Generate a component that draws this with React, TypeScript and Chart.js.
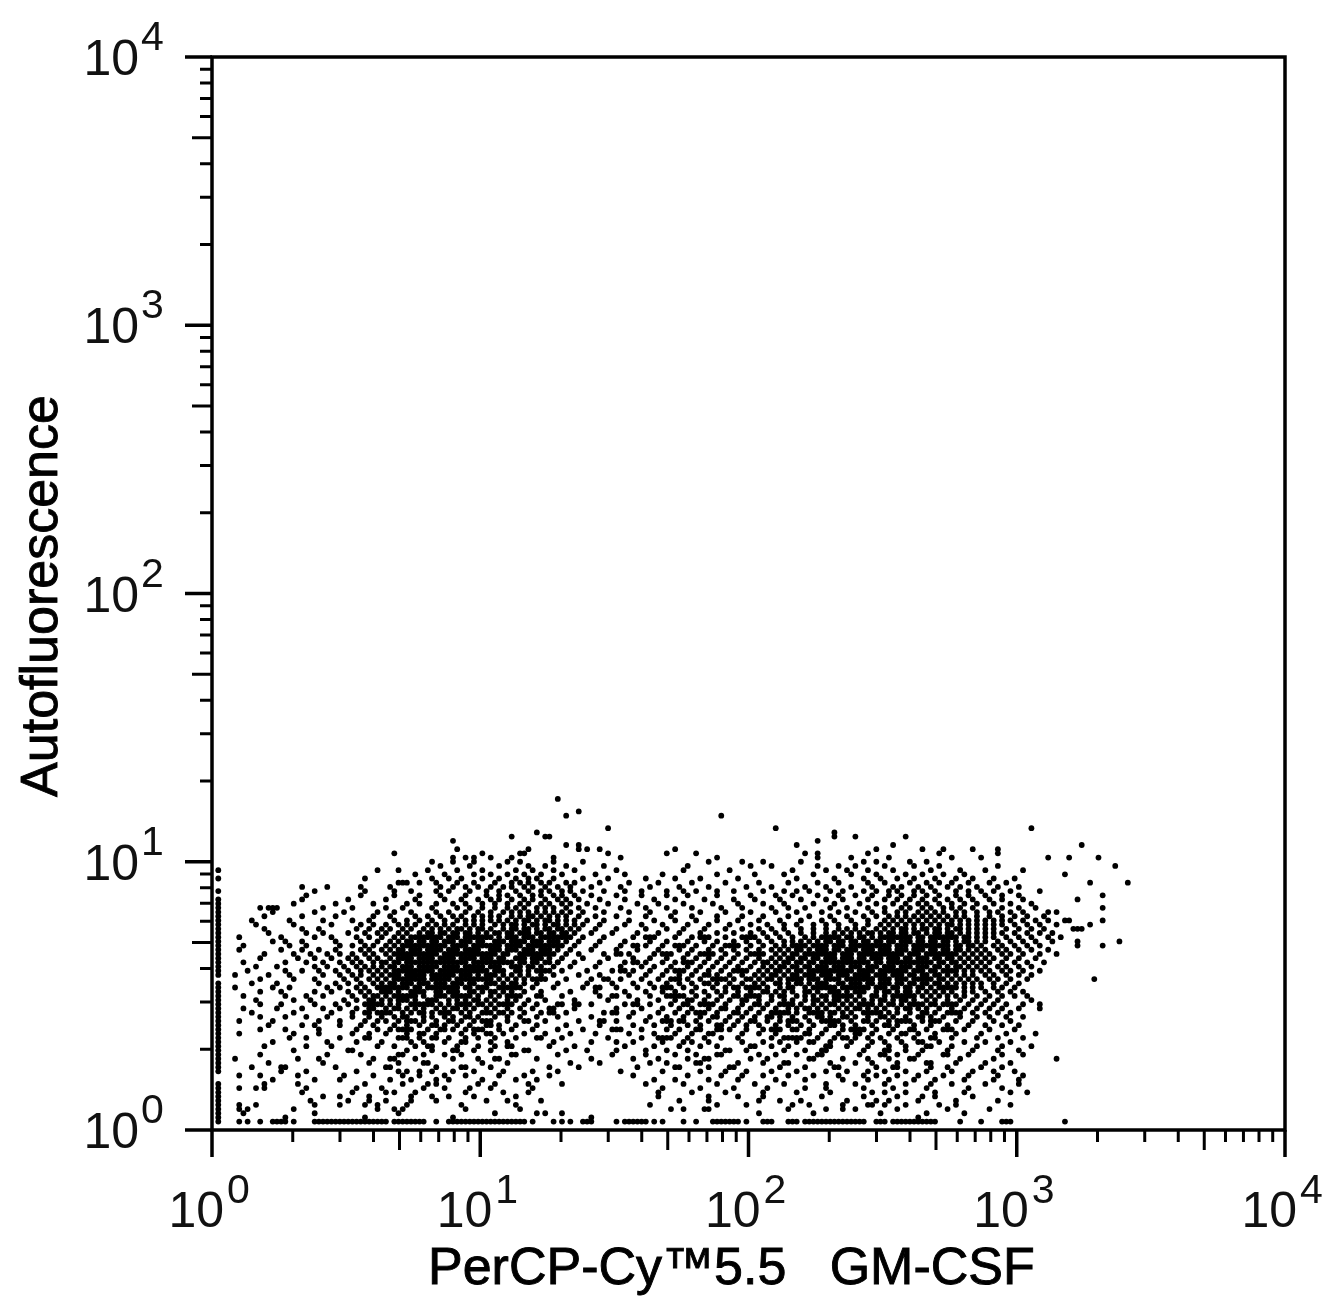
import React, { useEffect, useRef } from "react";
import { Chart, registerables } from "chart.js";

Chart.register(...registerables);

const xTitle = "PerCP-Cy™5.5   GM-CSF";
const yTitle = "Autofluorescence";
const decades = [1, 10, 100, 1000, 10000];
const decadeExponents = ["0", "1", "2", "3", "4"];
const minorMultipliers = [2, 3, 4, 6, 7, 8, 9];
const midMultiplier = 5;
const channelsPerDecade = 64;

// Dot plot: y channel, then the x channels that hold a dot on that row.
const hugColumn = [2,3,4,5,6,7,8,9,10,11,14,15,16,17,18,19,20,21,22,23,24,25,26,27,28,29,30,31,32,33,34,35,37,38,39,40,41,42,43,44,45,46,47,48,49,50,51,52,53,54,55,57,60,62];
const r2 = [6,8,11,14,15,16,17,19,24,25,26,27,28,29,30,31,32,33,34,35,36,37,38,39,40,41,43,44,45,46,47,48,49,50,53,56,57,58,59,60,61,62,63,64,65,66,67,68,69,70,71,72,73,74,76,81,83,85,88,89,90,96,98,99,100,101,102,103,105,107,112,115,119,120,121,122,123,124,125,127,131,132,133,137,138,139,141,142,143,144,145,146,147,148,149,150,151,152,153,154,155,158,159,160,162,163,164,165,166,167,168,169,170,171,172,178,183,188,189,190,203];
const r3 = [17,36,57,90,168];
const r4 = [7,24,44,67,77,79,83,130,143,159,170,179];
const r5 = [6,8,19,39,43,45,60,73,109,112,117,118,137,146,150,153,163,175,185];
const r6 = [6,10,24,30,36,39,46,59,72,104,120,127,138,142,150,156,157,160,165,173,177,190];
const r7 = [23,32,37,41,47,53,65,70,78,111,118,130,135,140,151,158,161,168,177,187];
const r8 = [26,30,37,47,52,56,62,72,106,118,125,131,145,155,163,169,172,181];
const r9 = [21,33,41,43,48,60,69,75,106,114,122,131,139,147,157,160,165,172,179,190,194];
const r10 = [6,10,12,22,34,40,50,55,61,66,76,107,116,124,132,141,146,155,162,170,180,188];
const r11 = [12,20,36,45,51,53,63,67,75,83,103,112,120,129,136,146,153,160,165,171,176,184,192];
const r12 = [14,24,30,42,47,53,56,64,72,77,105,110,118,125,134,141,150,156,161,167,172,179,186,192];
const r13 = [6,11,20,31,38,45,49,55,60,68,74,80,100,113,121,126,131,137,143,149,155,158,163,168,174,180,187,193];
const r14 = [16,22,34,44,46,49,52,57,62,69,76,82,97,107,116,122,127,133,139,146,151,156,160,165,170,176,181,186,191];
const r15 = [9,16,17,29,41,42,53,59,60,66,80,87,101,110,111,118,123,124,135,141,148,149,158,162,163,171,175,183,188];
const r16 = [13,26,37,44,50,51,64,70,85,92,104,108,115,116,125,131,136,137,147,153,157,163,170,171,177,184,190];
const r17 = [5,20,25,38,42,43,48,57,63,67,68,77,90,100,106,113,117,118,128,132,142,143,150,156,161,166,167,178,186,201];
const r18 = [11,27,35,44,45,50,55,59,71,72,82,95,103,110,115,120,121,130,134,139,144,145,154,159,160,163,168,174,175,180,188,193];
const r19 = [19,32,33,46,52,57,58,62,66,74,75,84,89,96,103,108,113,122,123,127,136,141,145,146,155,160,161,165,169,175,181,187,192];
const r20 = [12,22,28,39,43,48,51,52,58,63,67,70,71,80,86,98,105,111,116,120,128,129,133,137,146,147,151,156,161,165,170,171,176,182,188,195];
const r21 = [14,27,34,40,47,50,55,59,60,66,70,81,90,96,100,107,112,114,118,126,131,135,139,142,143,147,152,157,160,164,168,169,173,179,184,190];
const r22 = [18,22,30,36,37,44,49,52,53,56,60,63,67,72,77,78,83,94,102,108,109,113,117,121,125,133,136,137,140,144,148,153,156,159,163,167,171,172,176,182,187,193];
const r23 = [6,19,25,33,37,41,46,49,50,53,59,62,65,66,69,74,79,85,91,99,105,110,114,118,119,126,130,134,141,142,145,149,153,154,157,161,164,165,168,172,177,183,189,196];
const r24 = [11,17,25,34,39,42,44,47,51,54,55,57,60,64,68,71,76,82,88,95,102,108,111,115,116,123,127,131,135,138,139,142,146,150,154,155,158,162,166,167,170,174,179,185,191];
const r25 = [13,21,24,30,35,38,43,46,49,52,53,55,58,61,65,66,68,72,77,84,92,100,105,109,113,116,120,121,124,127,130,134,137,140,143,147,148,150,153,157,160,161,163,167,171,175,180,184,188,192];
const r26 = [6,14,25,30,36,39,41,44,48,50,53,56,57,59,62,66,70,74,75,79,87,96,103,107,111,112,115,118,122,125,128,129,132,135,139,142,145,148,149,152,155,156,158,161,165,166,169,173,177,181,186,190];
const r27 = [11,17,22,27,33,37,40,43,45,46,50,52,55,57,60,61,63,67,70,73,77,82,90,99,104,108,112,116,119,120,123,126,129,132,133,135,138,141,144,145,147,150,151,153,156,159,160,162,165,168,169,171,174,178,182,185,189,193];
const r28 = [9,19,28,33,36,37,39,42,45,47,49,50,52,54,56,59,61,64,68,69,71,74,78,84,93,100,106,110,113,117,120,124,125,127,130,133,136,137,139,142,145,147,148,150,152,155,158,159,161,163,166,169,170,172,175,178,181,184,187,190];
const r29 = [7,15,21,26,30,34,37,38,41,43,44,46,48,50,53,55,57,58,60,62,65,67,70,73,76,80,81,86,96,102,107,111,114,118,121,122,125,128,131,134,137,139,141,142,144,146,149,151,153,154,156,158,160,163,165,166,168,170,173,176,179,182,185,188,192,197];
const r30 = [11,16,24,29,32,36,39,40,42,44,47,49,51,52,54,56,58,61,63,64,66,68,71,74,77,82,83,90,98,104,109,112,113,116,119,122,126,129,130,132,135,138,140,143,145,147,148,150,152,154,157,159,161,162,164,166,169,171,172,174,177,180,183,186,189,193,197];
const r31 = [10,19,23,31,34,37,38,40,42,44,45,46,48,51,52,53,56,58,60,62,63,65,67,70,72,75,79,86,94,101,106,110,113,114,117,120,123,126,127,130,133,136,138,141,143,144,146,148,149,151,153,155,157,159,160,162,164,165,167,170,172,175,178,181,184,187,195];
const r32 = [7,17,22,26,33,36,38,39,41,43,46,47,48,50,53,54,55,58,60,61,63,66,68,70,73,77,78,83,92,99,104,108,109,112,115,118,121,124,125,127,130,133,135,136,139,141,143,145,146,148,151,152,154,157,158,160,162,163,165,167,169,171,173,175,177,179,182,185,188,191,194];
const r33 = [11,16,24,28,32,35,37,40,41,42,44,47,48,49,50,53,54,56,57,58,61,62,64,66,67,69,71,74,78,85,91,98,103,107,110,114,117,120,122,125,128,131,132,134,136,138,141,142,144,147,148,149,151,153,154,155,158,160,161,163,165,166,168,170,172,174,176,179,181,184,187,190,193];
const r34 = [5,14,18,27,30,34,36,39,41,43,44,45,46,48,49,51,52,53,55,56,57,60,61,63,64,65,68,69,71,73,76,81,88,96,101,105,109,112,115,119,122,124,125,127,130,132,135,137,138,141,143,144,145,147,148,150,151,152,155,156,158,159,160,162,163,165,166,168,169,171,173,175,177,179,181,183,186,188,191];
const r35 = [9,15,25,29,32,35,38,40,42,43,45,46,47,49,50,51,53,54,55,57,58,59,61,62,65,66,67,69,71,72,74,77,82,89,95,100,104,108,111,114,117,118,120,123,126,129,131,134,135,137,139,140,142,144,145,146,149,150,152,153,154,156,157,159,160,161,163,164,166,167,169,170,172,173,175,177,179,181,183,186,189,192];
const r36 = [11,19,24,31,34,37,39,41,43,44,45,47,48,49,50,52,53,54,55,56,58,59,60,62,64,65,66,68,70,72,74,76,79,84,90,97,102,106,109,113,116,119,122,124,127,128,130,132,133,135,137,138,140,142,143,144,146,147,148,149,151,152,153,155,156,157,159,160,161,163,164,165,167,168,170,171,173,174,176,178,180,182,185,187,190,194,210];
const r37 = [5,13,18,26,30,33,35,38,40,42,43,44,46,47,48,49,50,52,53,54,55,56,57,59,60,61,63,65,66,67,69,71,73,75,78,81,87,92,99,103,107,111,114,117,118,120,123,126,129,131,133,134,136,138,139,141,142,143,145,146,147,149,150,151,153,154,155,156,158,159,160,162,163,164,166,167,169,170,172,173,175,177,179,181,184,186,189,192,195];
const r38 = [8,17,21,25,29,32,35,37,39,41,43,44,45,46,48,49,50,51,52,54,55,56,57,58,61,62,63,64,65,67,68,69,72,73,75,77,80,83,89,95,100,104,108,112,115,118,121,124,127,130,132,134,135,137,139,140,142,143,144,146,147,148,150,151,152,154,155,156,157,159,160,161,163,164,165,167,168,169,171,172,174,175,177,179,181,183,185,188,190,193,197];
const r39 = [10,15,24,27,31,34,36,38,40,42,43,45,46,47,49,50,51,52,53,55,56,57,58,60,61,62,63,64,66,67,68,71,72,73,75,76,78,81,85,91,97,102,105,109,113,116,119,122,125,128,131,133,135,136,138,139,141,142,144,145,146,148,149,150,152,153,154,156,157,158,160,161,162,164,165,166,168,169,170,172,173,175,177,178,180,182,184,187,189,192,195];
const r40 = [7,17,22,26,30,33,35,38,40,41,43,44,46,47,48,49,51,52,53,54,56,57,58,59,60,62,63,64,67,68,69,70,71,73,74,76,77,79,82,86,92,98,103,107,110,114,117,120,123,126,129,132,134,136,137,139,140,142,143,145,146,147,149,150,151,153,154,155,156,158,159,161,162,163,165,166,167,169,170,171,173,174,176,177,179,181,183,185,188,191,194,198];
const r41 = [11,20,24,28,32,34,37,39,42,44,45,46,47,49,50,51,52,54,55,56,57,59,60,61,62,64,65,66,68,69,72,73,74,76,77,78,80,83,88,94,100,104,108,112,115,118,121,124,127,130,133,135,137,138,140,141,143,144,146,147,148,150,151,152,154,155,157,158,159,161,162,163,165,166,168,169,170,172,173,175,176,178,180,182,184,186,189,192,196];
const r42 = [12,19,23,27,30,33,36,38,41,43,44,46,47,48,50,51,52,53,55,56,57,58,60,61,62,63,65,66,67,69,70,73,74,75,77,78,79,81,84,87,93,99,105,109,113,116,119,122,125,128,131,134,136,138,139,141,143,144,145,147,148,150,151,152,154,155,156,158,159,160,162,163,164,166,167,168,170,171,173,174,176,177,179,181,183,185,188,190,193,197,201];
const r43 = [6,16,21,25,29,35,37,40,42,44,45,47,48,49,51,52,53,54,56,57,58,60,61,62,63,66,67,68,70,71,72,74,75,76,78,79,80,82,85,90,96,101,106,111,114,118,121,124,127,130,133,135,137,139,140,142,144,145,146,148,149,151,152,153,155,156,157,159,160,161,163,164,165,167,168,169,171,172,174,175,177,178,180,182,184,187,189,192,195,199];
const r44 = [7,18,22,30,33,36,38,41,43,45,46,48,49,50,52,53,54,55,57,58,59,60,62,63,66,67,68,70,71,72,73,75,76,77,79,80,81,83,86,91,97,103,107,112,115,119,122,125,128,131,134,136,138,140,141,143,145,146,148,149,150,152,153,154,156,157,158,160,161,163,164,165,167,168,170,171,172,174,175,177,178,180,181,183,186,188,191,194,197,206,212];
const r45 = [14,17,21,29,35,39,42,44,46,47,49,50,52,53,55,56,57,59,60,61,63,64,67,68,69,71,72,73,74,76,77,78,80,81,82,84,87,92,98,104,108,113,117,120,124,127,130,133,136,138,140,142,144,146,147,149,150,152,153,155,156,158,159,161,162,164,165,166,168,169,171,172,174,175,177,179,180,182,184,187,190,193,196,200,206,216];
const r46 = [6,16,24,28,34,37,40,43,45,47,48,50,51,53,54,56,57,58,60,61,63,64,66,68,70,71,72,74,75,76,78,79,81,82,83,85,88,93,100,105,110,114,118,122,126,129,132,135,138,141,143,145,147,149,151,152,154,155,157,159,160,162,163,165,166,168,169,171,172,174,175,177,179,180,182,184,186,189,192,195,199,202];
const r47 = [13,22,26,32,36,39,41,44,46,49,51,52,54,55,57,58,60,61,63,65,67,68,70,71,73,74,75,77,78,80,81,83,84,86,90,95,101,106,111,116,120,124,128,131,134,137,140,143,146,148,150,152,154,156,157,159,161,162,164,165,167,168,170,172,173,175,176,178,180,182,184,186,188,191,194,197,200];
const r48 = [12,21,25,34,37,40,42,45,47,50,52,54,56,58,59,61,63,64,66,69,71,72,74,75,77,79,80,82,83,85,87,91,96,103,108,112,117,122,126,130,133,136,140,143,146,149,151,153,155,158,160,162,164,165,167,169,170,172,173,175,177,178,180,182,184,186,189,192,195,198,205,206,207];
const r49 = [10,19,28,35,38,41,44,46,48,51,53,55,57,60,62,64,67,69,71,72,74,76,77,79,81,82,84,86,88,92,98,102,107,113,118,123,128,132,136,139,143,146,149,153,156,159,161,163,165,167,169,171,173,175,176,178,180,182,184,186,188,191,194,197,201,209];
const r50 = [9,18,26,33,37,43,46,49,52,55,58,60,62,64,66,68,70,72,74,75,77,79,80,82,84,86,89,93,99,105,110,115,120,125,130,135,140,145,148,152,156,160,162,164,166,168,170,172,174,176,178,180,182,184,186,188,190,193,196,199,203,204,212];
const r51 = [12,21,29,38,42,48,51,54,57,59,62,64,66,68,71,73,75,76,78,80,82,84,87,91,96,103,109,114,120,126,131,137,142,147,151,155,158,161,163,165,167,169,171,173,175,177,179,182,185,188,191,194,198];
const r52 = [14,24,31,39,43,47,53,56,60,63,66,69,71,73,75,77,79,81,83,85,88,93,99,104,110,116,122,128,134,139,145,149,153,157,160,163,165,168,170,172,174,177,179,182,185,187,190,193,199,201];
const r53 = [11,13,14,15,26,33,41,45,52,58,61,64,67,70,72,74,77,79,81,84,87,91,97,103,108,114,121,126,133,137,141,147,151,156,160,164,166,169,171,174,176,178,181,184,188,192,196,212];
const r54 = [19,29,38,46,49,53,57,60,64,67,70,73,75,78,80,83,85,89,94,101,106,112,119,125,131,136,143,148,154,158,162,165,168,170,173,176,179,182,186,190,195];
const r55 = [21,32,41,48,55,59,63,66,68,71,74,76,79,82,84,87,92,98,105,110,117,124,129,135,140,146,150,156,160,163,166,169,172,175,178,181,185,188,193,206];
const r56 = [22,35,43,49,54,60,65,68,70,73,76,78,81,83,86,90,96,102,108,113,120,128,134,138,144,149,153,157,161,164,167,170,173,177,180,184,188,192,212];
const r57 = [24,36,43,47,53,56,61,65,68,72,75,78,80,83,85,88,93,98,102,108,112,115,120,124,131,136,139,142,147,150,155,158,161,163,167,169,172,177,180,183,186,190,197];
const r58 = [21,27,35,42,54,57,60,63,66,69,71,74,76,79,82,85,90,97,104,111,118,127,133,141,146,152,157,162,164,168,171,175,178,182,187,192];
const r59 = [44,45,46,49,53,58,62,67,71,73,75,78,80,84,86,92,99,106,114,122,130,137,144,149,156,160,166,170,173,176,180,185,189,209,218];
const r60 = [36,52,56,59,64,68,72,75,77,81,88,94,103,110,116,125,139,148,155,159,163,167,172,177,181,186,191];
const r61 = [48,55,62,66,70,74,78,83,91,98,107,120,129,136,143,152,158,165,169,174,179,203];
const r62 = [39,44,51,58,64,72,76,81,86,96,112,123,138,146,151,156,162,171,178,184,193];
const r63 = [54,61,68,75,79,84,93,113,128,133,144,149,153,160,167,173,187,215];
const r64 = [52,57,62,70,73,81,88,118,126,131,140,155,158,166,170];
const r65 = [57,60,62,66,71,81,97,120,144,152,161,176,183,199,204,211];
const r66 = [43,64,73,74,94,108,115,141,144,156,173,187];
const r67 = [58,75,87,89,92,110,158,169,174,181,187];
const r68 = [84,87,139,162,207];
const r69 = [57,144];
const r70 = [71,79,80,148,153,165];
const r71 = [77,148];
const r72 = [94,134,195];
const r75 = [84,121];
const r76 = [87];
const r79 = [82];

// Second reading of the crowded band: short runs of touching dots (clumps).
const k22 = [45,46,106,107,138,139,150,151];
const k24 = [45,46,62,63,96,97,120,121,133,134,152,153,175,176];
const k26 = [46,47,64,65,92,93,108,109,137,138,146,147,163,164,171,172];
const k28 = [40,41,55,56,65,66,80,81,95,96,115,116,134,135,143,144,156,157,176,177];
const k30 = [37,38,48,50,59,60,69,70,86,87,100,101,117,118,136,137,155,156,167,168,175,176];
const k32 = [44,45,57,59,71,72,95,96,110,111,128,129,149,150,164,166];
const k34 = [40,42,54,58,70,72,91,92,107,108,128,129,146,147,153,154,174,176];
const k36 = [46,50,61,63,77,78,93,94,110,111,120,121,139,140,154,157,169,170];
const k38 = [47,50,59,60,78,79,97,98,110,111,125,126,145,149,162,164,176,177];
const k40 = [50,55,65,66,80,82,100,101,112,113,131,132,148,152,164,168];
const k42 = [45,49,59,64,76,80,96,97,107,108,117,118,129,130,142,146,157,161,172,175];
const k44 = [47,51,64,65,78,82,100,101,110,111,123,124,139,144,155,159,169,173];
const k46 = [49,52,62,65,80,84,103,104,116,117,127,128,146,148,161,164,173,176];

const dotRows: [number, number[]][] = [
  [2, r2], [3, r3], [4, r4], [5, r5], [6, r6], [7, r7], [8, r8], [9, r9], [10, r10], [11, r11],
  [12, r12], [13, r13], [14, r14], [15, r15], [16, r16], [17, r17], [18, r18], [19, r19], [20, r20],
  [21, r21], [22, r22], [23, r23], [24, r24], [25, r25], [26, r26], [27, r27], [28, r28], [29, r29],
  [30, r30], [31, r31], [32, r32], [33, r33], [34, r34], [35, r35], [36, r36], [37, r37], [38, r38],
  [39, r39], [40, r40], [41, r41], [42, r42], [43, r43], [44, r44], [45, r45], [46, r46], [47, r47],
  [48, r48], [49, r49], [50, r50], [51, r51], [52, r52], [53, r53], [54, r54], [55, r55], [56, r56],
  [57, r57], [58, r58], [59, r59], [60, r60], [61, r61], [62, r62], [63, r63], [64, r64], [65, r65],
  [66, r66], [67, r67], [68, r68], [69, r69], [70, r70], [71, r71], [72, r72], [75, r75], [76, r76],
  [79, r79],
  [22, k22], [24, k24], [26, k26], [28, k28], [30, k30], [32, k32], [34, k34], [36, k36], [38, k38],
  [40, k40], [42, k42], [44, k44], [46, k46],
];

const channelToValue = (channel: number) => Math.pow(10, channel / channelsPerDecade);

const points: { x: number; y: number }[] = [];
dotRows.forEach(([row, columns]) => {
  columns.forEach((column) => points.push({ x: channelToValue(column + 0.5), y: channelToValue(row) }));
});
hugColumn.forEach((row) => points.push({ x: channelToValue(1.5), y: channelToValue(row) }));

const INK = "#000";
const labelFont = "Liberation Sans, Arial, sans-serif";

const axisPlugin = {
  id: "flowAxes",
  afterDraw(chart: any) {
    const { ctx, chartArea: a, scales } = chart;
    const { x, y } = scales;
    ctx.save();
    ctx.strokeStyle = INK;
    ctx.lineWidth = 3.5;
    ctx.strokeRect(a.left, a.top, a.right - a.left, a.bottom - a.top);
    const lenFor = (m: number) => (m === 1 ? 27 : m === midMultiplier ? 20 : 12);
    decades.forEach((d, i) => {
      const mults = i === decades.length - 1 ? [1] : [1, ...minorMultipliers, midMultiplier];
      mults.forEach((m) => {
        const v = d * m;
        const len = lenFor(m);
        const px = x.getPixelForValue(v);
        const py = y.getPixelForValue(v);
        ctx.lineWidth = m === 1 ? 3.5 : 3;
        ctx.beginPath();
        ctx.moveTo(px, a.bottom);
        ctx.lineTo(px, a.bottom + len);
        ctx.moveTo(a.left, py);
        ctx.lineTo(a.left - len, py);
        ctx.stroke();
      });
    });
    ctx.fillStyle = "#111";
    ctx.textBaseline = "alphabetic";
    decades.forEach((d, i) => {
      const exp = decadeExponents[i];
      const px = x.getPixelForValue(d);
      const py = y.getPixelForValue(d);
      ctx.textAlign = "right";
      ctx.font = `50px ${labelFont}`;
      ctx.fillText("10", 139, py + 18);
      ctx.textAlign = "left";
      ctx.font = `41px ${labelFont}`;
      ctx.fillText(exp, 141, py - 7);
      ctx.textAlign = "right";
      ctx.font = `50px ${labelFont}`;
      ctx.fillText("10", px + 12, 1227);
      ctx.textAlign = "left";
      ctx.font = `41px ${labelFont}`;
      ctx.fillText(exp, px + 15, 1203);
    });
    ctx.fillStyle = INK;
    ctx.strokeStyle = INK;
    ctx.lineWidth = 0.9;
    ctx.font = `52px ${labelFont}`;
    ctx.textAlign = "left";
    ctx.fillText(xTitle, 428, 1284);
    ctx.strokeText(xTitle, 428, 1284);
    ctx.translate(57, 596);
    ctx.rotate(-Math.PI / 2);
    ctx.textAlign = "center";
    ctx.fillText(yTitle, 0, 0);
    ctx.strokeText(yTitle, 0, 0);
    ctx.restore();
  },
};

export default function App() {
  const ref = useRef<HTMLCanvasElement | null>(null);
  useEffect(() => {
    if (!ref.current) return;
    const chart = new Chart(ref.current, {
      type: "scatter",
      data: {
        datasets: [
          {
            data: points,
            backgroundColor: INK,
            borderWidth: 0,
            pointRadius: 2.9,
            pointStyle: "circle",
          },
        ],
      },
      options: {
        animation: false,
        responsive: false,
        devicePixelRatio: 1,
        layout: { padding: { left: 0, right: 48, top: 57, bottom: 0 } },
        plugins: { legend: { display: false }, tooltip: { enabled: false } },
        scales: {
          x: {
            type: "logarithmic",
            min: 1,
            max: 10000,
            grid: { display: false },
            border: { display: false },
            ticks: { display: false },
            afterFit: (s: any) => { s.height = 178; },
          },
          y: {
            type: "logarithmic",
            min: 1,
            max: 10000,
            grid: { display: false },
            border: { display: false },
            ticks: { display: false },
            afterFit: (s: any) => { s.width = 212; },
          },
        },
      },
      plugins: [axisPlugin],
    } as any);
    return () => chart.destroy();
  }, []);
  return (
    <canvas
      ref={ref}
      width={1333}
      height={1308}
      style={{ position: "absolute", left: 0, top: 0, display: "block", width: 1333, height: 1308 }}
    />
  );
}
